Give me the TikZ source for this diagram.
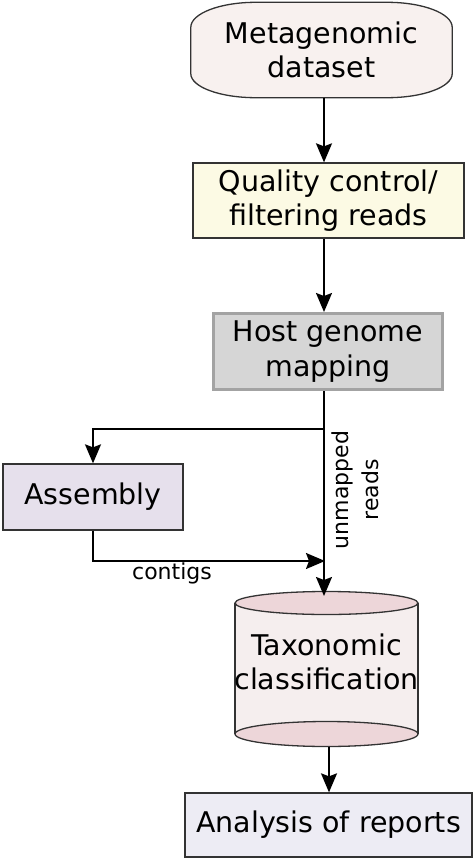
\documentclass[tikz,border=0pt]{standalone}
\usepackage{fontspec}
\setmainfont{DejaVu Sans}
\usetikzlibrary{arrows.meta,backgrounds,calc}
\definecolor{metafill}{HTML}{F8F1EF}
\definecolor{qcfill}{HTML}{FCFAE4}
\definecolor{hostfill}{HTML}{D6D6D6}
\definecolor{hostline}{HTML}{A3A3A3}
\definecolor{asmfill}{HTML}{E6E0EC}
\definecolor{cylbody}{HTML}{F5EEEE}
\definecolor{cylend}{HTML}{EDD6D9}
\definecolor{anafill}{HTML}{EDECF4}
\tikzset{
  x=1pt,y=-1pt,
  maintext/.style={font=\fontsize{28.5}{34.5}\selectfont, align=center, inner sep=0pt},
  boxnode/.style={maintext, draw=black!80, line width=1.3pt},
  smalltext/.style={font=\fontsize{22}{30}\selectfont, align=center, inner sep=0pt},
  arr/.style={line width=1.8pt, -{Stealth[length=19pt,width=16pt,inset=3pt]}},
  conn/.style={line width=1.8pt},
}
\begin{document}
\begin{tikzpicture}
\useasboundingbox (0,0) rectangle (474,859);
\coordinate (axis) at (324,0);
% top terminator
\node[maintext, minimum width=261pt, minimum height=95pt] (meta) at (321.5,50) {Metagenomic\\dataset};
\begin{scope}[on background layer]
\draw[fill=metafill, line width=1.3pt, draw=black!80]
  ([xshift=65pt]meta.north west) -- ([xshift=-65pt]meta.north east)
  arc[start angle=90, end angle=0, x radius=65pt, y radius=25pt]
  -- ([yshift=24pt]meta.south east)
  arc[start angle=0, end angle=-90, x radius=65pt, y radius=24pt]
  -- ([xshift=65pt]meta.south west)
  arc[start angle=270, end angle=180, x radius=65pt, y radius=24pt]
  -- ([yshift=-25pt]meta.north west)
  arc[start angle=180, end angle=90, x radius=65pt, y radius=25pt]
  -- cycle;
\end{scope}
\node[boxnode, fill=qcfill, minimum width=271pt, minimum height=75pt] (qc) at (328.5,200.5) {Quality control/\\filtering reads};
\node[boxnode, fill=hostfill, draw=hostline, line width=3pt, minimum width=229pt, minimum height=76pt] (host) at (328,351.5) {Host genome\\mapping};
\node[boxnode, fill=asmfill, minimum width=180pt, minimum height=66pt] (asm) at (93,497) {Assembly};
% cylinder
\fill[cylbody] (235,603) rectangle (418,734);
\draw[fill=cylend, line width=1.3pt, draw=black!80] (326.5,734) ellipse [x radius=91.5pt, y radius=12.5pt];
\draw[line width=1.3pt, draw=black!80] (235,603) -- (235,734) (418,603) -- (418,734);
\draw[fill=cylend, line width=1.3pt, draw=black!80] (326.5,603) ellipse [x radius=91.5pt, y radius=11.5pt];
\node[maintext] (tax) at (326.5,662) {Taxonomic\\classification};
\coordinate (taxtop) at (324,596);
\coordinate (taxbot) at (329,746.5);
\node[boxnode, fill=anafill, minimum width=287pt, minimum height=64pt] (ana) at (328.5,825) {Analysis of reports};
% connectors
\draw[arr] (meta.south -| axis) -- (qc.north -| axis);
\draw[arr] (qc.south -| axis) -- (host.north -| axis);
\coordinate (split) at (324,429);
\coordinate (join) at (325,561);
\draw[conn] (host.south -| axis) -- (split);
\draw[arr] (split) -- (taxtop);
\draw[arr] (split) -| (asm.north);
\draw[arr] (asm.south) |- (join);
\draw[arr] (taxbot) -- (ana.north -| taxbot);
% labels
\node[smalltext] (contigs) at (172,573) {contigs};
\node[smalltext, rotate=90] (unmapped) at (355,490) {unmapped\\reads};
\end{tikzpicture}
\end{document}
